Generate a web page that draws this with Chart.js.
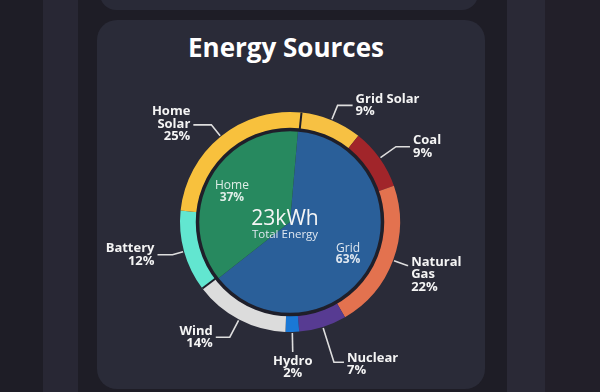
<!DOCTYPE html>
<html>
<head>
<meta charset="utf-8">
<script src="https://cdn.jsdelivr.net/npm/chart.js@4.4.1/dist/chart.umd.min.js"></script>
<style>
	html, body { margin: 0; padding: 0; width: 600px; height: 392px; overflow: hidden; background: #1e1d26; }
	.block { position: absolute; }
	#stripL { left: 43px; top: 0; width: 35px; height: 392px; background: #282734; }
	#stripR { left: 507px; top: 0; width: 38px; height: 392px; background: #2a2936; }
	#edgeR { left: 545px; top: 0; width: 55px; height: 392px; background: #221f29; }
	#cardTop { left: 100px; top: -30px; width: 378px; height: 40px; border-radius: 16px; background: #292a37; }
	#card { left: 97px; top: 20px; width: 388px; height: 369px; border-radius: 20px; background: #2a2b38; }
	h1 { position: absolute; left: 92px; width: 388px; top: 34px; margin: 0; text-align: center;
		font: 700 26px/26px "Open Sans", sans-serif; color: #ffffff; }
	#energy { position: absolute; left: 0; top: 0; }
</style>
</head>
<body>
<div class="block" id="stripL"></div>
<div class="block" id="stripR"></div>
<div class="block" id="edgeR"></div>
<div class="block" id="cardTop"></div>
<div class="block" id="card"></div>
<h1>Energy Sources</h1>
<canvas id="energy" width="600" height="392"></canvas>
<script>
//
// Données du graphique : anneau extérieur (sources) et disque intérieur (origine).
//
const sourceLabels = [ [ "Grid Solar" ], [ "Coal" ], [ "Natural", "Gas" ], [ "Nuclear" ], [ "Hydro" ], [ "Wind" ], [ "Battery" ], [ "Home", "Solar" ] ];
const sourceShares = [ 9, 9, 22, 7, 2, 14, 12, 25 ];
const originLabels = [ "Grid", "Home" ];
const originShares = [ 63, 37 ];
const totalValue = "23kWh";
const totalCaption = "Total Energy";

const sourceColors = [ "#f7c143", "#a1252a", "#e3724f", "#573b92", "#1a78d6", "#dcdcdc", "#62e6d0", "#f8c13d" ];
const originColors = [ "#2a5f99", "#27895f" ];

//
// Étiquettes avec traits de rappel, séparateurs et texte central.
//
const callouts = {
	id: "callouts",
	afterDatasetsDraw( chart, args, opts ) {
		const ctx = chart.ctx;
		const outer = chart.getDatasetMeta( 0 ).data;
		const inner = chart.getDatasetMeta( 1 ).data;
		const cx = outer[ 0 ].x;
		const cy = outer[ 0 ].y;

		ctx.save();

		// cercle sombre entre le disque et l'anneau
		ctx.strokeStyle = "#1f1f2a";
		ctx.lineWidth = 3.5;
		ctx.beginPath();
		ctx.arc( cx, cy, inner[ 0 ].outerRadius - 0.5, 0, Math.PI * 2 );
		ctx.stroke();

		// séparateurs de l'anneau
		ctx.lineWidth = 2;
		opts.separators.forEach( ( i ) => {
			const a = outer[ i ].startAngle;
			ctx.beginPath();
			ctx.moveTo( cx + Math.cos( a ) * outer[ i ].innerRadius, cy + Math.sin( a ) * outer[ i ].innerRadius );
			ctx.lineTo( cx + Math.cos( a ) * outer[ i ].outerRadius, cy + Math.sin( a ) * outer[ i ].outerRadius );
			ctx.stroke();
		} );

		// étiquettes extérieures
		ctx.font = "700 13px 'Open Sans'";
		ctx.textBaseline = "middle";
		outer.forEach( ( arc, i ) => {
			const [ len, run, dy ] = opts.leaders[ i ];
			const mid = ( arc.startAngle + arc.endAngle ) / 2;
			const R = arc.outerRadius;
			const x0 = cx + Math.cos( mid ) * ( R + 1 );
			const y0 = cy + Math.sin( mid ) * ( R + 1 );
			const x1 = cx + Math.cos( mid ) * ( R + len );
			const y1 = cy + Math.sin( mid ) * ( R + len );
			const dir = Math.cos( mid ) >= 0 ? 1 : -1;
			const x2 = x1 + dir * run;

			ctx.strokeStyle = "#dedede";
			ctx.lineWidth = 1.6;
			ctx.beginPath();
			ctx.moveTo( x0, y0 );
			ctx.lineTo( x1, y1 );
			ctx.lineTo( x2, y1 );
			ctx.stroke();

			const lines = sourceLabels[ i ].concat( sourceShares[ i ] + "%" );
			ctx.fillStyle = "#f4f4f4";
			if ( run === 0 ) {
				ctx.textAlign = "center";
				lines.forEach( ( t, k ) => ctx.fillText( t, x1, y1 + 9 + dy + k * 12.5 ) );
			} else {
				ctx.textAlign = dir > 0 ? "left" : "right";
				const top = y1 + dy - lines.length * 6.25;
				lines.forEach( ( t, k ) => ctx.fillText( t, x2 + dir * 3, top + 6.25 + k * 12.5 ) );
			}
		} );

		// étiquettes du disque
		ctx.textAlign = "center";
		ctx.fillStyle = "rgba(255, 255, 255, 0.85)";
		inner.forEach( ( arc, i ) => {
			const mid = ( arc.startAngle + arc.endAngle ) / 2;
			const r = arc.outerRadius * 0.71;
			const x = cx + Math.cos( mid ) * r;
			const y = cy + Math.sin( mid ) * r;
			ctx.font = "400 12px 'Open Sans'";
			ctx.fillText( originLabels[ i ], x, y - 5 );
			ctx.font = "700 12px 'Open Sans'";
			ctx.fillText( originShares[ i ] + "%", x, y + 6.5 );
		} );

		// texte central
		ctx.fillStyle = "#f6f6f6";
		ctx.font = "400 21px 'Open Sans'";
		ctx.fillText( totalValue, cx - 5, cy - 3 );
		ctx.fillStyle = "#dfe7f0";
		ctx.font = "400 11.5px 'Open Sans'";
		ctx.fillText( totalCaption, cx - 5, cy + 13 );

		ctx.restore();
	}
};

new Chart( document.getElementById( "energy" ),
	{
		type: "pie",
		data: {
			labels: sourceLabels,
			datasets: [
				{
					data: sourceShares,
					backgroundColor: sourceColors,
					borderWidth: 0,
					rotation: 6,
					weight: 17
				},
				{
					data: originShares,
					backgroundColor: originColors,
					borderWidth: 0,
					rotation: 5,
					weight: 93
				}
			]
		},
		options: {
			responsive: false,
			animation: false,
			events: [],
			layout: {
				padding: { left: 180, top: 112, right: 200, bottom: 60 }
			},
			plugins: {
				legend: { display: false },
				tooltip: { enabled: false },
				callouts: {
					separators: [ 0, 6 ],
					leaders: [ [ 16, 15, 0 ], [ 20, 14, 0 ], [ 15, 1, 9 ], [ 37, 10, 2 ], [ 20, 0, 0 ], [ 20, 14, 0 ], [ 12, 15, 0 ], [ 15, 18, -1 ] ]
				}
			}
		},
		plugins: [ callouts ]
	} );
</script>
</body>
</html>
